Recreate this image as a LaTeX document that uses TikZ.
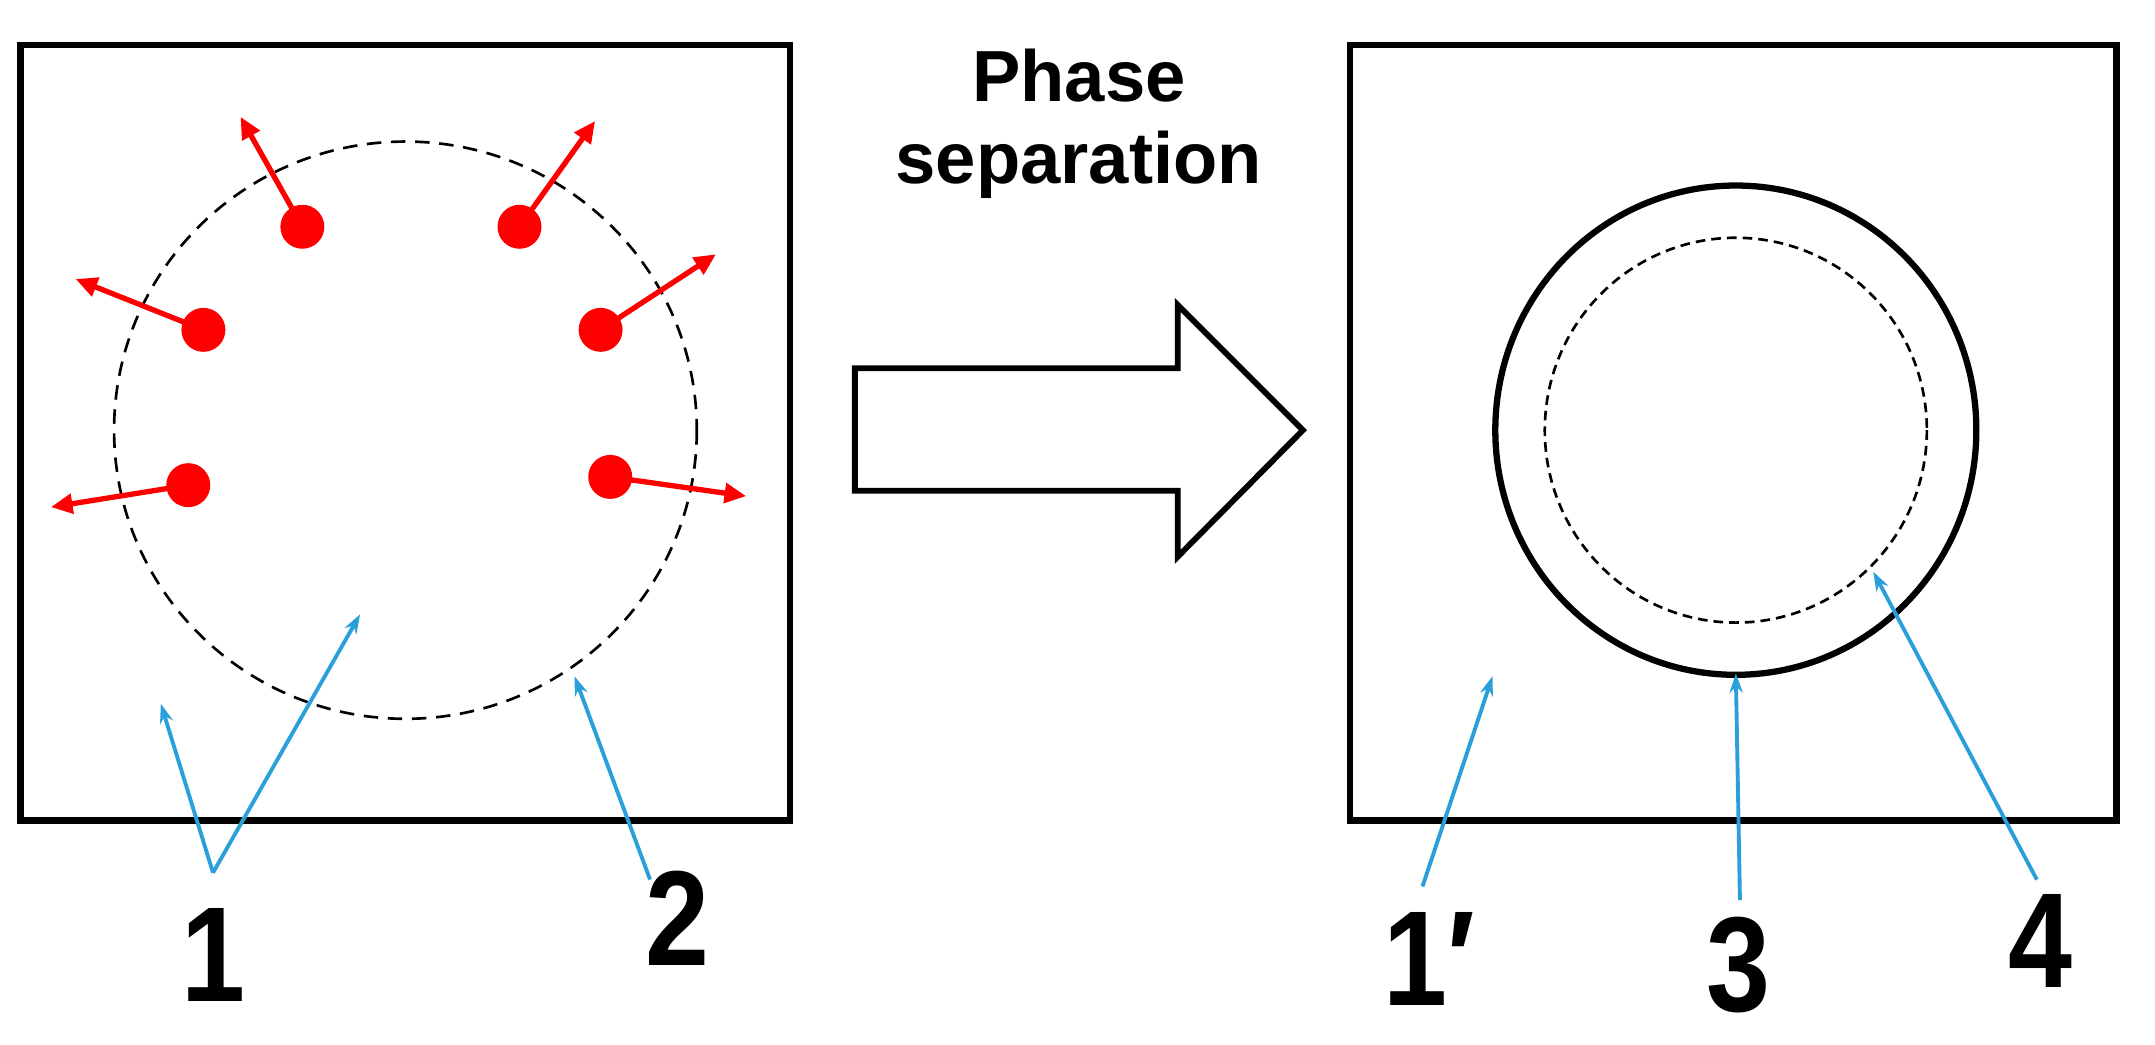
\documentclass[tikz,border=0pt]{standalone}
\usepackage{fontspec}
\setmainfont{Liberation Sans}
\usetikzlibrary{arrows.meta}
\definecolor{lblue}{HTML}{2AA0DA}
\begin{document}
\begin{tikzpicture}[x=0.02cm,y=-0.02cm,
  box/.style={line width=2.6pt},
  red/.style={draw=red,line width=2.2pt,-{Triangle[length=9pt,width=8pt]}},
  dot/.style={circle,fill=red,inner sep=0pt,minimum size=0.64cm},
  blue/.style={draw=lblue,line width=1.6pt,-{Stealth[length=8pt,width=5.5pt]}},
  num/.style={font=\fontsize{56}{56}\bfseries\selectfont,xscale=0.85},
  lab/.style={font=\fontsize{30}{34}\bfseries\selectfont,align=center}]
\useasboundingbox (0,0) rectangle (1568,760);
\draw[box] (15,33) rectangle (575,597);
\draw[dashed,line width=1.1pt,dash pattern=on 6pt off 4pt] (295,313) ellipse [x radius=212,y radius=210];
\foreach \n/\x/\y/\tx/\ty in {a/220/165/175/85, b/378/165/433/88, c/148/240/55/203, d/437/240/521/185, e/137/353/37/369, f/444/347/543/361}{
  \node[dot] (\n) at (\x,\y) {};
  \coordinate (\n t) at (\tx,\ty);
  \draw[red] (\n.center) -- (\n t);
}
\coordinate (b1) at (155,635); \coordinate (e1) at (117,512); \coordinate (e2) at (262,447);
\draw[blue] (b1) -- (e1); \draw[blue] (b1) -- (e2);
\coordinate (b2) at (473,640); \coordinate (e3) at (418,492);
\draw[blue] (b2) -- (e3);
\node[num] (n1) at (155,695) {1};
\node[num] (n2) at (493,668) {2};
\node[lab] (ph) at (785,90) {Phase\\separation};
\draw[line width=2.4pt,line join=miter] (622,268) -- (857,268) -- (857,222) -- (948,313) -- (857,405) -- (857,357) -- (622,357) -- cycle;
\draw[box] (982,33) rectangle (1540,597);
\draw[line width=2.6pt] (1263,313) ellipse [x radius=175,y radius=178];
\draw[line width=1.1pt,dash pattern=on 4pt off 2.5pt] (1263,313) ellipse [x radius=139,y radius=140];
\coordinate (b3) at (1035,645); \coordinate (e4) at (1086,492);
\coordinate (b4) at (1266,655); \coordinate (e5) at (1263,490);
\coordinate (b5) at (1482,640); \coordinate (e6) at (1363,416);
\draw[blue] (b3) -- (e4); \draw[blue] (b4) -- (e5); \draw[blue] (b5) -- (e6);
\node[num] (n1p) at (1040,698) {1′};
\node[num] (n3) at (1265,702) {3};
\node[num] (n4) at (1485,685) {4};
\end{tikzpicture}
\end{document}
